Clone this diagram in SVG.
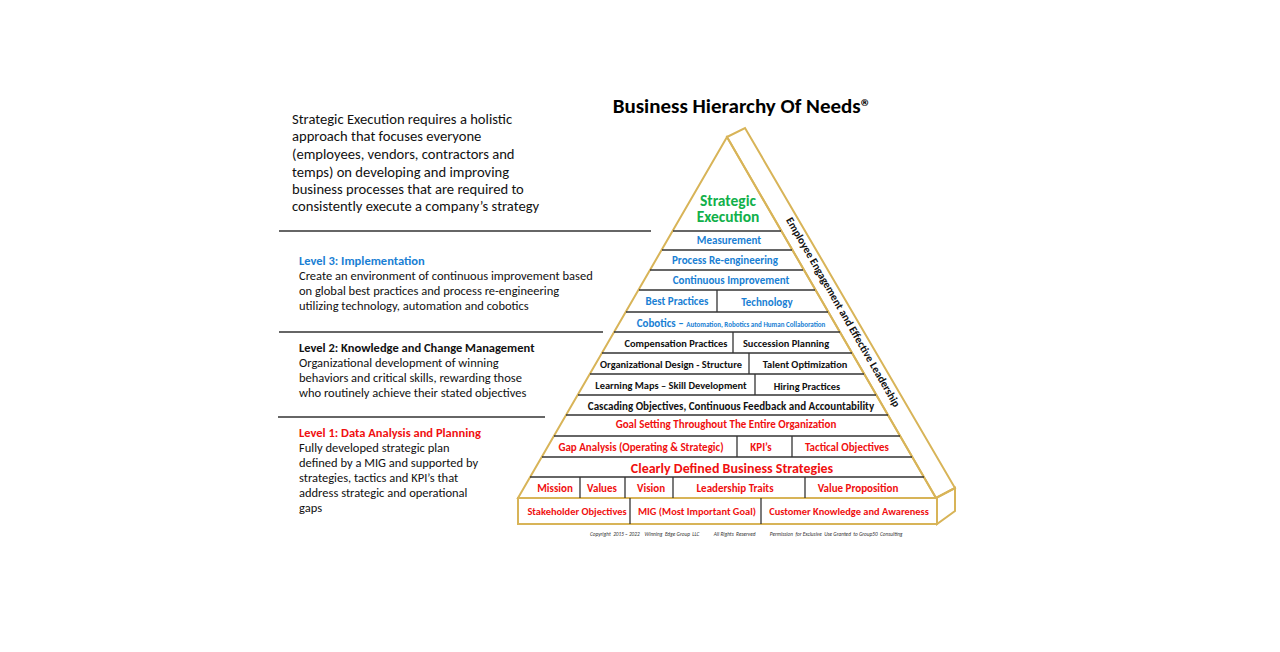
<svg xmlns="http://www.w3.org/2000/svg" width="1280" height="652" viewBox="0 0 1280 652">
<style>
text{font-family:Calibri,Carlito,"Liberation Sans",Arial,sans-serif}
.b{font-weight:bold;font-size:11px;text-anchor:middle}
.s{font-size:10.4px}
.bl{fill:#1a7fd4}.rd{fill:#f01010}.bk{fill:#111}
.ln{stroke:#333;stroke-width:1.3}
.gd{fill:none;stroke:#d8b458;stroke-width:2}
.p{font-size:12.5px;fill:#111}
.h{font-size:14.6px;fill:#111}
</style>
<rect width="1280" height="652" fill="#fff"/>
<g id="intro"><text class="h" x="292" y="124">Strategic Execution requires a holistic</text>
<text class="h" x="292" y="141">approach that focuses everyone</text>
<text class="h" x="292" y="159">(employees, vendors, contractors and</text>
<text class="h" x="292" y="177">temps) on developing and improving</text>
<text class="h" x="292" y="194">business processes that are required to</text>
<text class="h" x="292" y="211">consistently execute a company’s strategy</text></g>
<g id="separators" class="ln"><line x1="279" y1="231" x2="651" y2="231"/><line x1="279" y1="332" x2="603" y2="332"/><line x1="278" y1="417" x2="545" y2="417"/></g>
<g id="level3"><text x="299" y="265" font-size="12.5" font-weight="bold" fill="#1a7fd4">Level 3: Implementation</text>
<text class="p" x="299" y="280">Create an environment of continuous improvement based</text>
<text class="p" x="299" y="295">on global best practices and process re-engineering</text>
<text class="p" x="299" y="310">utilizing technology, automation and cobotics</text></g>
<g id="level2"><text x="299" y="352" font-size="12.5" font-weight="bold" fill="#111">Level 2: Knowledge and Change Management</text>
<text class="p" x="299" y="367">Organizational development of winning</text>
<text class="p" x="299" y="382">behaviors and critical skills, rewarding those</text>
<text class="p" x="299" y="397">who routinely achieve their stated objectives</text></g>
<g id="level1"><text x="299" y="437" font-size="12.5" font-weight="bold" fill="#f01010">Level 1: Data Analysis and Planning</text>
<text class="p" x="299" y="452">Fully developed strategic plan</text>
<text class="p" x="299" y="467">defined by a MIG and supported by</text>
<text class="p" x="299" y="482">strategies, tactics and KPI’s that</text>
<text class="p" x="299" y="497">address  strategic and operational</text>
<text class="p" x="299" y="512">gaps</text></g>
<text x="742" y="113" font-size="21" font-weight="bold" text-anchor="middle" fill="#000">Business Hierarchy Of Needs®</text>
<g id="pyramid-outline" class="gd">
<polygon points="727,137 936,498 518,498"/>
<polygon points="727,137 745,128 955,488 936,498"/>
<polygon points="936,498 955,488 955,511 937,524 937,498"/>
<rect x="518" y="498" width="419" height="26"/>
</g>
<g id="rows" class="ln">
<line x1="673" y1="231" x2="781" y2="231"/>
<line x1="662" y1="250" x2="792" y2="250"/>
<line x1="650" y1="270" x2="803" y2="270"/>
<line x1="639" y1="290" x2="815" y2="290"/>
<line x1="626" y1="312" x2="828" y2="312"/>
<line x1="614" y1="332" x2="840" y2="332"/>
<line x1="602" y1="353" x2="852" y2="353"/>
<line x1="590" y1="374" x2="864" y2="374"/>
<line x1="578" y1="395" x2="876" y2="395"/>
<line x1="566" y1="415" x2="888" y2="415"/>
<line x1="554" y1="436" x2="900" y2="436"/>
<line x1="542" y1="457" x2="912" y2="457"/>
<line x1="530" y1="477" x2="924" y2="477"/>
<line x1="717" y1="290" x2="717" y2="312"/>
<line x1="733" y1="332" x2="733" y2="353"/>
<line x1="749" y1="353" x2="749" y2="374"/>
<line x1="755" y1="374" x2="755" y2="395"/>
<line x1="737" y1="436" x2="737" y2="457"/>
<line x1="792" y1="436" x2="792" y2="457"/>
<line x1="580" y1="477" x2="580" y2="498"/>
<line x1="625" y1="477" x2="625" y2="498"/>
<line x1="673" y1="477" x2="673" y2="498"/>
<line x1="805" y1="477" x2="805" y2="498"/>
<line x1="630" y1="498" x2="630" y2="524"/>
<line x1="761" y1="498" x2="761" y2="524"/>
</g>
<g id="labels">
<text x="728" y="206" font-size="15.5" font-weight="bold" text-anchor="middle" fill="#11b04a">Strategic</text>
<text x="728" y="222" font-size="15.5" font-weight="bold" text-anchor="middle" fill="#11b04a">Execution</text>
<text class="b bl" x="729" y="244">Measurement</text>
<text class="b bl" x="725" y="264">Process Re-engineering</text>
<text class="b bl" x="731" y="284">Continuous  Improvement</text>
<text class="b bl" x="677" y="305">Best Practices</text>
<text class="b bl" x="767" y="306">Technology</text>
<text x="731" y="327" text-anchor="middle" font-weight="bold" fill="#1a7fd4"><tspan font-size="11">Cobotics – </tspan><tspan font-size="7">Automation, Robotics and Human Collaboration</tspan></text>
<text class="b s bk" x="676" y="347">Compensation Practices</text>
<text class="b s bk" x="786" y="347">Succession Planning</text>
<text class="b s bk" x="671" y="368">Organizational  Design - Structure</text>
<text class="b s bk" x="805" y="368">Talent Optimization</text>
<text class="b s bk" x="671" y="389">Learning Maps – Skill Development</text>
<text class="b s bk" x="807" y="390">Hiring Practices</text>
<text class="b bk" x="731" y="410">Cascading Objectives, Continuous  Feedback and Accountability</text>
<text class="b rd" x="726" y="428">Goal Setting Throughout The Entire Organization</text>
<text class="b rd" x="641" y="451">Gap Analysis (Operating &amp; Strategic)</text>
<text class="b rd" x="761" y="451">KPI’s</text>
<text class="b rd" x="847" y="451">Tactical Objectives</text>
<text x="732" y="473" font-size="14" font-weight="bold" text-anchor="middle" fill="#f01010">Clearly Defined Business Strategies</text>
<text class="b rd" x="555" y="492">Mission</text>
<text class="b rd" x="602" y="492">Values</text>
<text class="b rd" x="651" y="492">Vision</text>
<text class="b rd" x="735" y="492">Leadership Traits</text>
<text class="b rd" x="858" y="492">Value Proposition</text>
<text class="b s rd" x="577" y="515">Stakeholder Objectives</text>
<text class="b s rd" x="697" y="515">MIG (Most Important Goal)</text>
<text class="b s rd" x="849" y="515">Customer Knowledge and Awareness</text>
<text x="840" y="314" font-size="11" font-weight="bold" text-anchor="middle" fill="#111" transform="rotate(60 840 314)">Employee Engagement and Effective Leadership</text>
</g>
<text x="590" y="536" font-size="5.3" font-style="italic" fill="#333" xml:space="preserve">Copyright  2015 – 2022    Winning  Edge Group  LLC            All Rights  Reserved            Permission  for Exclusive  Use Granted  to Group50  Consulting</text>
</svg>
